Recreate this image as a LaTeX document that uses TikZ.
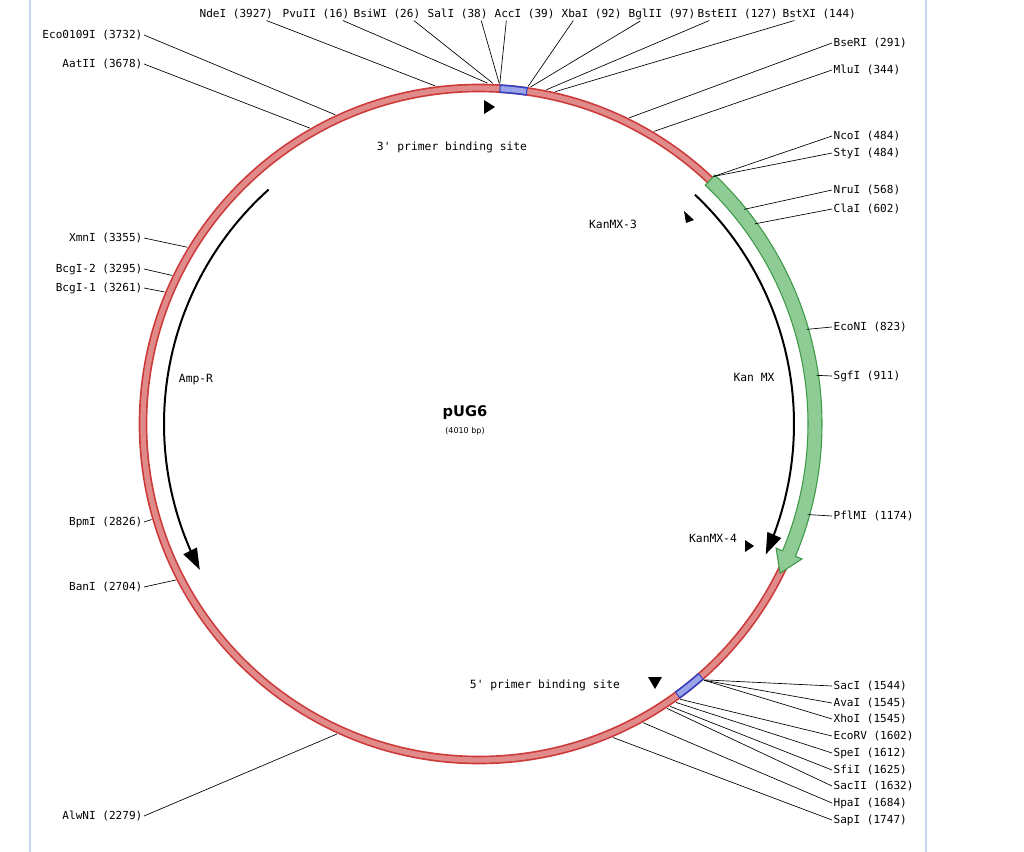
\documentclass[tikz,border=0pt]{standalone}
\usepackage{fontspec}
\setmainfont{DejaVu Sans}
\newfontfamily\lab{DejaVu Sans Mono}
\usetikzlibrary{arrows.meta}
\definecolor{ringred}{HTML}{E08A8A}
\definecolor{ringdark}{HTML}{CC3A3A}
\definecolor{grn}{HTML}{8FCB95}
\definecolor{grndark}{HTML}{3C9A48}
\definecolor{blu}{HTML}{9AA4E6}
\definecolor{bludark}{HTML}{3040C0}
\definecolor{frame}{HTML}{C4D8F4}
\tikzset{
 enz/.style={font=\lab\fontsize{8.3}{9}\selectfont, inner sep=1pt},
 cut/.style={draw=black, line width=0.5pt},
 inner/.style={font=\lab\fontsize{8.5}{10}\selectfont, inner sep=1pt},
}
\begin{document}
\begin{tikzpicture}[x=0.75pt,y=-0.75pt]
\useasboundingbox (0,0) rectangle (1024,852);
\fill[white] (0,0) rectangle (1024,852);
\draw[frame, line width=1.5pt] (30,0) -- (30,852) (926,0) -- (926,852);
% ring
\draw[ringdark, line width=6.5pt] (479,424) circle [radius=336];
\draw[ringred, line width=4pt] (479,424) circle [radius=336];
% blue segments
\draw[bludark, line width=6.5pt] plot[domain=39:92, samples=10] ({479+336*sin(\x*0.0897756)},{424-336*cos(\x*0.0897756)});
\draw[blu, line width=4pt] plot[domain=41:90, samples=10] ({479+336*sin(\x*0.0897756)},{424-336*cos(\x*0.0897756)});
\draw[bludark, line width=6.5pt] plot[domain=1544:1602, samples=10] ({479+336*sin(\x*0.0897756)},{424-336*cos(\x*0.0897756)});
\draw[blu, line width=4pt] plot[domain=1546:1600, samples=10] ({479+336*sin(\x*0.0897756)},{424-336*cos(\x*0.0897756)});
% green KanMX arrow
\filldraw[fill=grn, draw=grndark, line width=0.8pt]
  plot[domain=484:1255, samples=60] ({479+343*sin(\x*0.0897756)},{424-343*cos(\x*0.0897756)})
  -- ([shift={(479,424)}] {1255*0.0897756-90}:350)
  -- ([shift={(479,424)}] {1296*0.0897756-90}:336)
  -- ([shift={(479,424)}] {1255*0.0897756-90}:322)
  -- plot[domain=1255:484, samples=60] ({479+329*sin(\x*0.0897756)},{424-329*cos(\x*0.0897756)}) -- cycle;
% inner arrows
\draw[line width=1.5pt, -{Triangle[length=16pt,width=11pt]}] plot[domain=3543:2700, samples=60] ({479+315*sin(\x*0.0897756)},{424-315*cos(\x*0.0897756)});
\draw[line width=1.5pt, -{Triangle[length=16pt,width=11pt]}] plot[domain=482:1275, samples=60] ({479+315*sin(\x*0.0897756)},{424-315*cos(\x*0.0897756)});
% small triangles
\fill (484,100) -- (484,114) -- (495,107) -- cycle;
\fill (684,211) -- (694,220) -- (686,223) -- cycle;
\fill (745,540) -- (754,546) -- (745,552) -- cycle;
\fill (648,677) -- (662,677) -- (655,689) -- cycle;
% centre
\node[font=\bfseries\fontsize{11}{12}\selectfont] (name) at (465,413) {pUG6};
\node[font=\fontsize{6}{7}\selectfont] (size) at (465,431) {(4010 bp)};
\node[inner] (p3) at (452,147) {3' primer binding site};
\node[inner] (k3) at (613,224) {KanMX-3};
\node[inner] (kmx) at (754,377) {Kan MX};
\node[inner] (amp) at (196,380) {Amp-R};
\node[inner] (k4) at (713,538) {KanMX-4};
\node[inner] (p5) at (545,685) {5' primer binding site};
% right labels
\foreach \b/\yy/\t [count=\i] in {291/43/BseRI (291), 344/70/MluI (344), 484/136/NcoI (484), 484/153/StyI (484), 568/190/NruI (568), 602/209/ClaI (602), 823/327/EcoNI (823), 911/376/SgfI (911), 1174/516/PflMI (1174), 1544/686/SacI (1544), 1545/703/AvaI (1545), 1545/719/XhoI (1545), 1602/736/EcoRV (1602), 1612/753/SpeI (1612), 1625/770/SfiI (1625), 1632/786/SacII (1632), 1684/803/HpaI (1684), 1747/820/SapI (1747)}{
  \node[enz, anchor=west] (r\i) at (832,\yy) {\t};
  \coordinate (rc\i) at ([shift={(479,424)}] {\b*0.0897756-90}:341);
  \draw[cut] (rc\i) -- (r\i.west);
}
% left labels
\foreach \b/\yy/\t [count=\i] in {3732/35/Eco0109I (3732), 3678/64/AatII (3678), 3355/238/XmnI (3355), 3295/269/BcgI-2 (3295), 3261/288/BcgI-1 (3261), 2826/522/BpmI (2826), 2704/587/BanI (2704), 2279/816/AlwNI (2279)}{
  \node[enz, anchor=east] (l\i) at (144,\yy) {\t};
  \coordinate (lc\i) at ([shift={(479,424)}] {\b*0.0897756-90}:341);
  \draw[cut] (lc\i) -- (l\i.east);
}
% top labels
\foreach \b/\xx/\t [count=\i] in {3927/198/NdeI (3927), 16/281/PvuII (16), 26/352/BsiWI (26), 38/426/SalI (38)}{
  \node[enz, anchor=west] (t\i) at (\xx,14) {\t};
  \coordinate (tc\i) at ([shift={(479,424)}] {\b*0.0897756-90}:341);
  \draw[cut] (tc\i) -- ([xshift=-6pt]t\i.south east);
}
\foreach \b/\xx/\t [count=\i] in {39/493/AccI (39), 92/560/XbaI (92), 97/627/BglII (97), 127/696/BstEII (127), 144/781/BstXI (144)}{
  \node[enz, anchor=west] (u\i) at (\xx,14) {\t};
  \coordinate (uc\i) at ([shift={(479,424)}] {\b*0.0897756-90}:341);
  \draw[cut] (uc\i) -- ([xshift=10pt]u\i.south west);
}
\end{tikzpicture}
\end{document}
